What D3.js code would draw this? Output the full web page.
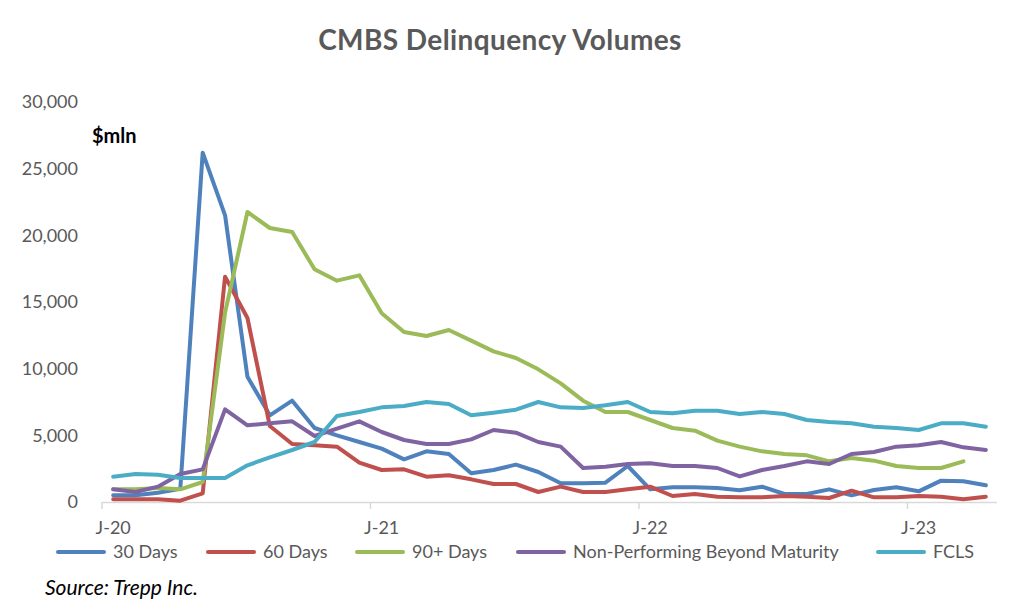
<!DOCTYPE html>
<html>
<head>
<meta charset="utf-8">
<script src="https://cdn.jsdelivr.net/npm/d3@7"></script>
<style>
  body { margin: 0; background: #fff; }
  text { font-family: Lato, "Open Sans", sans-serif; }
</style>
</head>
<body>
<svg id="chart" width="1024" height="614"></svg>
<script>
// monthly categories Jan-2020 .. Apr-2023
const months = d3.timeMonths(new Date(2020, 0, 1), new Date(2023, 4, 1));

const days30 = [500, 500, 700, 1000, 26200, 21500, 9400, 6500, 7600, 5550,
  5000, 4500, 4000, 3200, 3800, 3600, 2150, 2400, 2800, 2250,
  1400, 1400, 1450, 2700, 950, 1100, 1100, 1050, 880, 1150,
  600, 600, 950, 500, 900, 1100, 800, 1600, 1550, 1250];

const days60 = [200, 200, 200, 100, 650, 16900, 13800, 5700, 4350, 4250,
  4150, 2950, 2400, 2450, 1900, 2000, 1700, 1350, 1350, 750,
  1150, 750, 750, 950, 1150, 450, 600, 400, 350, 350,
  450, 400, 300, 850, 350, 350, 450, 400, 200, 400];

const days90 = [950, 950, 1050, 950, 1500, 14200, 21750, 20550, 20250, 17450,
  16600, 17000, 14150, 12750, 12450, 12900, 12100, 11300, 10800, 9950,
  8900, 7600, 6750, 6750, 6150, 5550, 5350, 4600, 4150, 3800,
  3600, 3500, 3050, 3300, 3100, 2700, 2550, 2550, 3050, null];

const nonPerf = [950, 750, 1150, 2100, 2450, 6950, 5750, 5900, 6050, 4950,
  5500, 6050, 5250, 4650, 4350, 4350, 4700, 5400, 5200, 4500,
  4150, 2550, 2650, 2850, 2900, 2700, 2700, 2550, 1920, 2400,
  2700, 3050, 2850, 3600, 3750, 4150, 4250, 4500, 4100, 3900];

const fcls = [1900, 2100, 2050, 1800, 1800, 1800, 2750, 3350, 3900, 4500,
  6450, 6750, 7100, 7200, 7500, 7350, 6500, 6700, 6920, 7500,
  7100, 7050, 7250, 7500, 6750, 6650, 6850, 6850, 6600, 6750,
  6600, 6150, 6000, 5900, 5650, 5550, 5400, 5900, 5900, 5650];

const seriesNames = ["30 Days", "60 Days", "90+ Days", "Non-Performing Beyond Maturity", "FCLS"];
const seriesColors = ["#4f81bd", "#c0504d", "#9bbb59", "#8064a2", "#4bacc6"];
const yTicks = [0, 5000, 10000, 15000, 20000, 25000, 30000];

const series = [days30, days60, days90, nonPerf, fcls];

const svg = d3.select("#chart");

// scales
let x = d3.scaleBand()
          .domain(d3.range(months.length))
          .range([102, 997])
          .padding(0);
let y = d3.scaleLinear().domain([0, 30000]).range([502, 102]);
let cx = i => x(i) + x.bandwidth() / 2;

// title
svg.append("text")
   .attr("x", 500).attr("y", 50)
   .attr("text-anchor", "middle")
   .style("font-size", "28px").style("font-weight", "bold")
   .style("letter-spacing", "0.4px")
   .style("fill", "#595959")
   .text("CMBS Delinquency Volumes");

// y tick labels (no axis line)
svg.append("g").selectAll("text")
   .data(yTicks).enter().append("text")
   .attr("x", 78).attr("y", d => y(d))
   .attr("dy", "0.36em")
   .attr("text-anchor", "end")
   .style("font-size", "18px").style("fill", "#595959")
   .text(d3.format(","));

svg.append("text")
   .attr("x", 92).attr("y", 143)
   .style("font-size", "20px").style("font-weight", "bold")
   .style("fill", "#000")
   .text("$mln");

// x axis
let ax = svg.append("g");
ax.append("line")
  .attr("x1", 102).attr("x2", 997)
  .attr("y1", 502.5).attr("y2", 502.5)
  .attr("stroke", "#d9d9d9").attr("stroke-width", 1.5);

let yearStarts = d3.range(months.length).filter(i => months[i].getMonth() === 0);

ax.selectAll("line.tick")
  .data(yearStarts).enter().append("line")
  .attr("class", "tick")
  .attr("x1", i => x(i)).attr("x2", i => x(i))
  .attr("y1", 502).attr("y2", 509)
  .attr("stroke", "#d9d9d9").attr("stroke-width", 1.5);

ax.selectAll("text")
  .data(yearStarts).enter().append("text")
  .attr("x", i => cx(i)).attr("y", 534)
  .attr("text-anchor", "middle")
  .style("font-size", "18px").style("fill", "#595959")
  .text(i => d3.timeFormat("%b")(months[i])[0] + "-" + d3.timeFormat("%y")(months[i]));

// lines
let line = d3.line()
             .defined(d => d != null)
             .x((d, i) => cx(i))
             .y(d => y(d));

svg.append("g").selectAll("path")
   .data(series).enter().append("path")
   .attr("d", d => line(d))
   .attr("fill", "none")
   .attr("stroke", (d, i) => seriesColors[i])
   .attr("stroke-width", 4)
   .attr("stroke-linejoin", "round")
   .attr("stroke-linecap", "round");

// legend
let legendX = [58, 208, 357, 518, 878];
let lg = svg.append("g").selectAll("g")
            .data(seriesNames).enter().append("g")
            .attr("transform", (d, i) => "translate(" + legendX[i] + ",552)");
lg.append("line")
  .attr("x1", 0).attr("x2", 46)
  .attr("stroke", (d, i) => seriesColors[i])
  .attr("stroke-width", 4)
  .attr("stroke-linecap", "round");
lg.append("text")
  .attr("x", 55).attr("y", 0).attr("dy", "0.35em")
  .style("font-size", "18px").style("fill", "#595959")
  .text(d => d);

// source
svg.append("text")
   .attr("x", 45).attr("y", 595)
   .style("font-size", "21px").style("font-style", "italic")
   .style("fill", "#000")
   .text("Source: Trepp Inc.");
</script>
</body>
</html>
